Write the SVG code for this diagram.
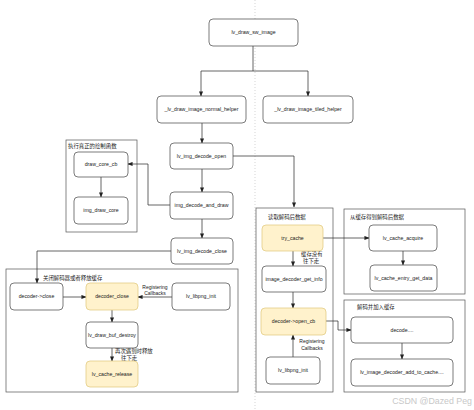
<svg xmlns="http://www.w3.org/2000/svg" width="474" height="410" viewBox="0 0 474 410">
<style>
.n{fill:#fff;stroke:#444;stroke-width:0.7}
.y{fill:#fff2cc;stroke:#e0c77a;stroke-width:0.7}
.g{fill:#fff;stroke:#555;stroke-width:0.7}
.t{font-family:"Liberation Sans",Arial,sans-serif;font-size:5.2px;fill:#222;text-anchor:middle}
.c{font-family:"Noto Sans CJK SC","Liberation Sans",sans-serif;font-size:5.4px;fill:#222}
.l{font-family:"Liberation Sans","Noto Sans CJK SC",sans-serif;font-size:5px;fill:#222;text-anchor:middle}
.e{fill:none;stroke:#333;stroke-width:0.75}
</style>
<defs>
<marker id="a" viewBox="0 0 6 6" refX="5.5" refY="3" markerWidth="5" markerHeight="5" orient="auto" markerUnits="userSpaceOnUse">
<path d="M0,0.5 L6,3 L0,5.5 Z" fill="#222"/>
</marker>
</defs>
<rect width="474" height="410" fill="#fff"/>
<line x1="255" y1="0" x2="255" y2="410" stroke="#bbb" stroke-width="0.6" stroke-dasharray="1,2"/>

<g id="grp-draw"><rect class="g" x="66" y="140" width="71" height="92"/><text class="c" x="68" y="147.5">执行真正的绘制函数</text></g>
<g id="grp-close"><rect class="g" x="6" y="269" width="232" height="123"/><text class="c" x="43" y="280">关闭解码器或者释放缓存</text></g>
<g id="grp-read"><rect class="g" x="256" y="208" width="77" height="184"/><text class="c" x="268" y="219">读取解码后数据</text></g>
<g id="grp-cache"><rect class="g" x="344" y="209" width="121" height="85"/><text class="c" x="350" y="219">从缓存得到解码后数据</text></g>
<g id="grp-decode"><rect class="g" x="344" y="300" width="121" height="92"/><text class="c" x="357" y="309">解码并加入缓存</text></g>

<g id="connectors">
<path class="e" d="M253,46 V71 M201,71 H308"/>
<path class="e" d="M201,71 V96" marker-end="url(#a)"/>
<path class="e" d="M308,71 V96" marker-end="url(#a)"/>
<path class="e" d="M202,123 V143" marker-end="url(#a)"/>
<path class="e" d="M202,169 V192" marker-end="url(#a)"/>
<path class="e" d="M202,219 V238" marker-end="url(#a)"/>
<path class="e" d="M170,205 H148 V164 H128" marker-end="url(#a)"/>
<path class="e" d="M101,177 V197" marker-end="url(#a)"/>
<path class="e" d="M233,156 H294 V207" marker-end="url(#a)"/>
<path class="e" d="M171,251 H37 V283" marker-end="url(#a)"/>
<path class="e" d="M63,297 H86" marker-end="url(#a)"/>
<path class="e" d="M172,297 H138" marker-end="url(#a)"/>
<path class="e" d="M112,310 V322" marker-end="url(#a)"/>
<path class="e" d="M112,348 V361" marker-end="url(#a)"/>
<path class="e" d="M323,238 H369" marker-end="url(#a)"/>
<path class="e" d="M403,251 V265" marker-end="url(#a)"/>
<path class="e" d="M293,251 V266" marker-end="url(#a)"/>
<path class="e" d="M293,292 V308" marker-end="url(#a)"/>
<path class="e" d="M293,357 V335" marker-end="url(#a)"/>
<path class="e" d="M326,321 H338 V330 H351" marker-end="url(#a)"/>
<path class="e" d="M402,343 V359" marker-end="url(#a)"/>
<g class="l">
<text x="155" y="289">Registering</text><text x="155" y="295">Callbacks</text>
<text x="312" y="343">Registering</text><text x="312" y="350">Callbacks</text>
</g>
<g class="c" font-size="5px">
<text x="115" y="353">再次遇到时释放</text><text x="121" y="360">往下走</text>
<text x="301" y="256">缓存没有</text><text x="303" y="263">往下走</text>
</g>
</g>

<g id="n-sw"><rect class="n" x="209" y="19" width="89" height="27" rx="4"/><text class="t" x="253.5" y="34.3">lv_draw_sw_image</text></g>
<g id="n-normal"><rect class="n" x="157" y="96" width="89" height="27" rx="4"/><text class="t" x="201.5" y="111.3">_lv_draw_image_normal_helper</text></g>
<g id="n-tiled"><rect class="n" x="263" y="96" width="90" height="27" rx="4"/><text class="t" x="308" y="111.3">_lv_draw_image_tiled_helper</text></g>
<g id="n-open"><rect class="n" x="170" y="143" width="63" height="26" rx="4"/><text class="t" x="201.5" y="157.8">lv_img_decode_open</text></g>
<g id="n-dad"><rect class="n" x="170" y="192" width="63" height="27" rx="4"/><text class="t" x="201.5" y="207.3">img_decode_and_draw</text></g>
<g id="n-close"><rect class="n" x="171" y="238" width="62" height="26" rx="4"/><text class="t" x="202" y="252.8">lv_img_decode_close</text></g>
<g id="n-cb"><rect class="n" x="74" y="152" width="54" height="25" rx="4"/><text class="t" x="101" y="166.3">draw_core_cb</text></g>
<g id="n-core"><rect class="n" x="74" y="197" width="54" height="27" rx="4"/><text class="t" x="101" y="212.3">img_draw_core</text></g>
<g id="n-dclose"><rect class="n" x="10" y="283" width="53" height="27" rx="4"/><text class="t" x="36.5" y="298.3">decoder-&gt;close</text></g>
<g id="n-decclose"><rect class="y" x="86" y="283" width="52" height="27" rx="4"/><text class="t" x="112" y="298.3">decoder_close</text></g>
<g id="n-png1"><rect class="n" x="172" y="283" width="58" height="27" rx="4"/><text class="t" x="201" y="298.3">lv_libpng_init</text></g>
<g id="n-destroy"><rect class="n" x="86" y="322" width="52" height="26" rx="4"/><text class="t" x="112" y="336.8">lv_draw_buf_destroy</text></g>
<g id="n-release"><rect class="y" x="86" y="361" width="52" height="26" rx="4"/><text class="t" x="112" y="375.8">lv_cache_release</text></g>
<g id="n-try"><rect class="y" x="262" y="225" width="61" height="26" rx="4"/><text class="t" x="292.5" y="239.8">try_cache</text></g>
<g id="n-info"><rect class="n" x="262" y="266" width="64" height="26" rx="4"/><text class="t" x="294" y="280.8">image_decoder_get_info</text></g>
<g id="n-opencb"><rect class="y" x="261" y="308" width="65" height="27" rx="4"/><text class="t" x="293.5" y="323.3">decoder-&gt;open_cb</text></g>
<g id="n-png2"><rect class="n" x="266" y="357" width="54" height="27" rx="4"/><text class="t" x="293" y="372.3">lv_libpng_init</text></g>
<g id="n-acq"><rect class="n" x="369" y="225" width="68" height="26" rx="4"/><text class="t" x="403" y="239.8">lv_cache_acquire</text></g>
<g id="n-entry"><rect class="n" x="370" y="265" width="67" height="26" rx="4"/><text class="t" x="403.5" y="279.8">lv_cache_entry_get_data</text></g>
<g id="n-decode"><rect class="n" x="351" y="317" width="102" height="26" rx="4"/><text class="t" x="402" y="331.8">decode....</text></g>
<g id="n-add"><rect class="n" x="351" y="359" width="102" height="27" rx="4"/><text class="t" x="402" y="374.3">lv_image_decoder_add_to_cache....</text></g>

<text x="472" y="404" text-anchor="end" font-family="Liberation Sans,Arial,sans-serif" font-size="8.8px" fill="#c8c8c8">CSDN @Dazed Peg</text>
</svg>
